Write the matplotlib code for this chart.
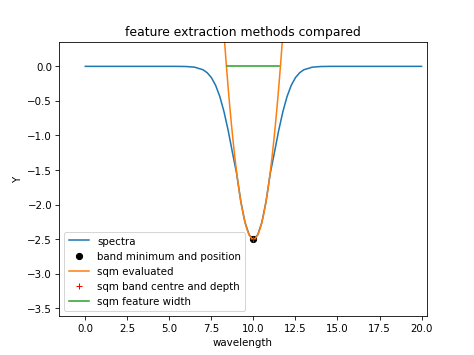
import matplotlib
matplotlib.use("Agg")
import matplotlib.pyplot as plt

# spectra
wl = [0, 1, 2, 3, 4, 5, 5.5, 6, 6.5, 7, 7.25, 7.5, 7.75, 8, 8.25, 8.5, 8.75,
      9, 9.25, 9.5, 9.75, 10, 10.25, 10.5, 10.75, 11, 11.25, 11.5, 11.75,
      12, 12.25, 12.5, 12.75, 13, 13.5, 14, 14.5, 15, 16, 17, 18, 19, 20]
spec = [0, 0, 0, 0, 0, 0, -0.0004, -0.0023, -0.012, -0.049,
        -0.092, -0.163, -0.274, -0.436, -0.657, -0.93, -1.245,
        -1.55, -1.955, -2.258, -2.44, -2.5, -2.44, -2.258, -1.955,
        -1.55, -1.245, -0.93, -0.657, -0.436, -0.274, -0.163, -0.092,
        -0.049, -0.012, -0.0023, -0.0004, 0, 0, 0, 0, 0, 0]

# band minimum
band_min_x = [10.0]
band_min_y = [-2.5]

# sqm evaluated
sqm_x = [8.2, 8.3, 8.4, 8.5, 8.6, 8.7, 8.8, 8.9, 9.0, 9.1, 9.2, 9.3, 9.4,
         9.5, 9.6, 9.7, 9.8, 9.9, 10.0, 10.1, 10.2, 10.3, 10.4, 10.5, 10.6,
         10.7, 10.8, 10.9, 11.0, 11.1, 11.2, 11.3, 11.4, 11.5, 11.6, 11.7,
         11.8]
sqm_y = [0.643, 0.303, -0.017, -0.318, -0.599, -0.861, -1.103, -1.326,
         -1.530, -1.714, -1.879, -2.025, -2.151, -2.258, -2.345, -2.413,
         -2.461, -2.490, -2.500, -2.490, -2.461, -2.413, -2.345, -2.258,
         -2.151, -2.025, -1.879, -1.714, -1.530, -1.326, -1.103, -0.861,
         -0.599, -0.318, -0.017, 0.303, 0.643]

# sqm band centre and depth
sqm_c_x = [10.0]
sqm_c_y = [-2.5]

# sqm feature width
width_x = [8.40, 11.50]
width_y = [0.0, 0.0]

fig, ax = plt.subplots(figsize=(6.4, 4.8), dpi=474 / 6.4)
ax.plot(wl, spec, label="spectra")
ax.plot(band_min_x, band_min_y, "ko", label="band minimum and position")
ax.plot(sqm_x, sqm_y, label="sqm evaluated")
ax.plot(sqm_c_x, sqm_c_y, "r+", label="sqm band centre and depth")
ax.plot(width_x, width_y, label="sqm feature width")
ax.set_xlim(-1.55, 20.3)
ax.set_ylim(-3.61, 0.35)
ax.set_title("feature extraction methods compared")
ax.set_xlabel("wavelength")
ax.set_ylabel("Y")
ax.legend(loc="lower left")
fig.savefig("out.png", dpi=474 / 6.4)
